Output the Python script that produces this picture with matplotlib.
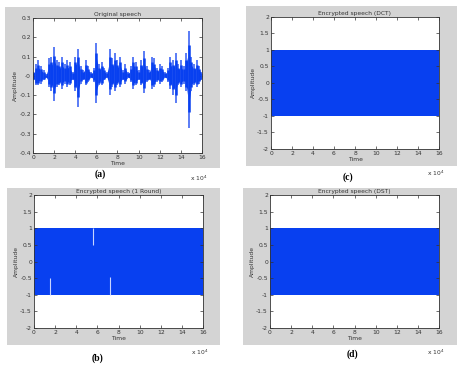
import numpy as np
import matplotlib
matplotlib.use("Agg")
import matplotlib.pyplot as plt
from matplotlib.ticker import FuncFormatter

# speech envelope, one value every 0.25 x 10^4 samples
speech_t = np.arange(0, 16.01, 0.25) * 1e4
speech_top = [0.02, 0.06, 0.08, 0.05, 0.03, 0.01, 0.09, 0.10, 0.15, 0.08, 0.07, 0.10, 0.06,
              0.08, 0.07, 0.02, 0.10, 0.14, 0.05, 0.03, 0.08, 0.05, 0.02, 0.04, 0.17, 0.06,
              0.07, 0.04, 0.02, 0.14, 0.09, 0.12, 0.08, 0.10, 0.03, 0.06, 0.02, 0.05, 0.10,
              0.07, 0.03, 0.08, 0.13, 0.05, 0.03, 0.10, 0.09, 0.04, 0.06, 0.05, 0.02, 0.04,
              0.10, 0.08, 0.12, 0.06, 0.08, 0.05, 0.12, 0.23, 0.10, 0.06, 0.08, 0.05, 0.02]
speech_bot = [-0.02, -0.05, -0.05, -0.04, -0.02, -0.01, -0.06, -0.08, -0.13, -0.06, -0.05,
              -0.07, -0.04, -0.06, -0.05, -0.02, -0.08, -0.16, -0.04, -0.02, -0.05, -0.03,
              -0.01, -0.03, -0.14, -0.05, -0.05, -0.02, -0.01, -0.10, -0.06, -0.08, -0.05,
              -0.06, -0.02, -0.04, -0.01, -0.03, -0.07, -0.05, -0.02, -0.05, -0.09, -0.03,
              -0.02, -0.07, -0.06, -0.03, -0.04, -0.03, -0.01, -0.03, -0.07, -0.10, -0.14,
              -0.05, -0.06, -0.04, -0.08, -0.27, -0.08, -0.05, -0.06, -0.04, -0.02]

# encrypted signals fill the band -1..1
band_t = [0, 16e4]
band_lo = [-1, -1]
band_hi = [1, 1]

# light gaps seen in panel (b)
gap_t = [1.55e4, 5.57e4, 7.15e4]
gap_lo = [-1.0, 0.5, -1.0]
gap_hi = [-0.5, 1.0, -0.47]

titles = ["Original speech", "Encrypted speech (DCT)",
          "Encrypted speech (1 Round)", "Encrypted speech (DST)"]
letters = ["(a)", "(c)", "(b)", "(d)"]

blue = "#0840f0"
W, H = 474, 376
fig = plt.figure(figsize=(W / 100, H / 100), dpi=100)

# (gray box, axes box, letter position) in pixels
panels = [
    ((5, 7, 220, 168), (33, 18, 202, 153), (100, 174)),
    ((246, 6, 457, 166), (271, 17, 439, 149), (348, 177)),
    ((7, 188, 220, 345), (34, 195, 203, 328), (97, 358)),
    ((243, 188, 457, 345), (270, 195, 439, 328), (352, 354)),
]


def box(b):
    x0, y0, x1, y1 = b
    return [x0 / W, 1 - y1 / H, (x1 - x0) / W, (y1 - y0) / H]


fs = 4.3
for i, (gray, ax_box, lpos) in enumerate(panels):
    bg = fig.add_axes(box(gray))
    bg.set_facecolor("#d4d4d4")
    bg.set_xticks([])
    bg.set_yticks([])
    for s in bg.spines.values():
        s.set_visible(False)

    ax = fig.add_axes(box(ax_box))
    if i == 0:
        top = np.array(speech_top)
        bot = np.array(speech_bot)
        ax.fill_between(speech_t, bot * 0.55, top * 0.55, color=blue, lw=0)
        ax.vlines(speech_t, bot, top, color="#4d72f4", lw=1.3)
        ax.vlines(speech_t, bot * 0.7, top * 0.7, color=blue, lw=1.8)
        ax.fill_between([0, 16e4], [-0.012, -0.012], [0.012, 0.012], color=blue, lw=0)
        ax.set_ylim(-0.4, 0.3)
        ax.set_yticks(np.arange(-0.4, 0.31, 0.1))
        ax.yaxis.set_major_formatter(FuncFormatter(lambda v, p: "%g" % round(v, 1)))
    else:
        ax.fill_between(band_t, band_lo, band_hi, color=blue, lw=0)
        if i == 2:
            ax.vlines(gap_t, gap_lo, gap_hi, color="#c8d4ff", lw=0.8)
        ax.set_ylim(-2, 2)
        ax.set_yticks(np.arange(-2, 2.01, 0.5))
        ax.yaxis.set_major_formatter(FuncFormatter(lambda v, p: "%g" % v))
    ax.set_xlim(0, 16e4)
    ax.set_xticks(np.arange(0, 16.01, 2) * 1e4)
    ax.xaxis.set_major_formatter(FuncFormatter(lambda v, p: "%g" % (v / 1e4)))
    ax.tick_params(direction="in", length=2, width=0.5, labelsize=fs, pad=1.5,
                   top=True, right=True, colors="#333333")
    for s in ax.spines.values():
        s.set_linewidth(0.6)
        s.set_color("#333333")
    ax.set_title(titles[i], fontsize=fs, pad=1.5, color="#333333")
    ax.set_xlabel("Time", fontsize=fs, labelpad=0.5, color="#333333")
    ax.set_ylabel("Amplitude", fontsize=fs, labelpad=1, color="#333333")
    ax.text(1.03, -0.15, r"x 10$^4$", transform=ax.transAxes, fontsize=fs,
            ha="right", va="top", color="#333333")

    fig.text(lpos[0] / W, 1 - lpos[1] / H, letters[i], fontsize=7, fontweight="bold",
             family="Liberation Serif", ha="center", va="center")

fig.savefig("out.png", dpi=100)
